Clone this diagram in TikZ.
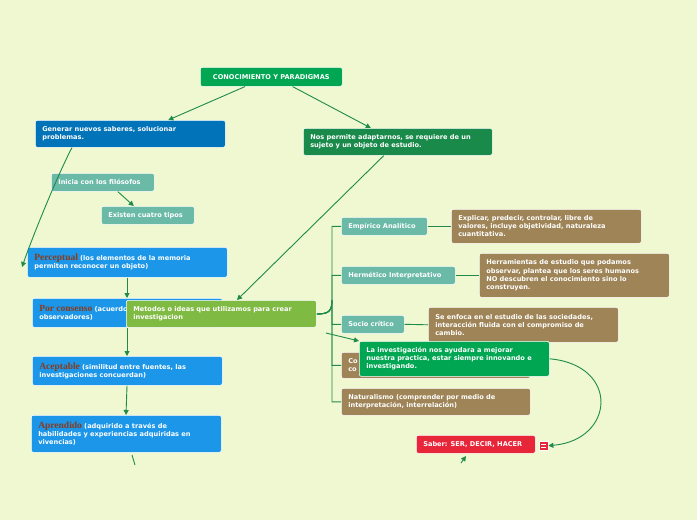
\documentclass[tikz,border=0pt]{standalone}
\usepackage{fontspec}
\setmainfont{DejaVu Sans}
\newfontfamily\serifx{Liberation Serif}
\usetikzlibrary{arrows.meta}
\definecolor{bg}{RGB}{239,248,209}
\definecolor{lnk}{RGB}{31,138,74}
\definecolor{gtitle}{RGB}{0,166,81}
\definecolor{dblue}{RGB}{0,115,185}
\definecolor{lblue}{RGB}{27,150,232}
\definecolor{teal}{RGB}{107,186,168}
\definecolor{dgreen}{RGB}{26,138,74}
\definecolor{lgreen}{RGB}{127,186,66}
\definecolor{brownx}{RGB}{158,132,86}
\definecolor{redx}{RGB}{232,38,58}
\definecolor{kw}{RGB}{140,58,26}
\tikzset{
 bx/.style={draw=white,line width=0.6pt,rounded corners=2pt,text=white,font=\fontsize{6.6}{8.2}\selectfont\bfseries,align=left,inner sep=0pt,anchor=north west},
 ar/.style={draw=lnk,line width=0.9pt,-{Triangle[length=5pt,width=5pt]}},
 ln/.style={draw=lnk,line width=0.9pt}
}
\newcommand{\kwx}[1]{{\serifx\fontsize{9.5}{9}\selectfont\color{kw}#1}}
\newcommand{\bxn}[7]{%
 \pgfmathsetmacro{\bw}{#4-#2}\pgfmathsetmacro{\bh}{#5-#3}\pgfmathsetmacro{\tw}{#4-#2-14}%
 \node[bx,fill=#6,minimum width=\bw pt,minimum height=\bh pt] (#1) at (#2,#3) {\parbox{\tw pt}{\raggedright #7}};}
\begin{document}
\begin{tikzpicture}[x=1pt,y=-1pt]
\fill[bg] (0,0) rectangle (697,520);
\useasboundingbox (0,0) rectangle (697,520);
\bxn{tit}{200}{67}{342}{86}{gtitle}{\centering CONOCIMIENTO Y PARADIGMAS}
\bxn{gen}{35}{120}{225}{147}{dblue}{Generar nuevos saberes, solucionar\\problemas.}
\bxn{ini}{51}{173}{154}{191}{teal}{Inicia con los filósofos}
\bxn{exi}{101}{206}{194}{224}{teal}{Existen cuatro tipos}
\bxn{nos}{303}{128}{492}{155}{dgreen}{Nos permite adaptarnos, se requiere de un\\sujeto y un objeto de estudio.}
\bxn{per}{27}{247}{227}{277}{lblue}{\kwx{Perceptual} (los elementos de la memoria\\permiten reconocer un objeto)}
\bxn{con}{32}{298}{222}{327}{lblue}{\kwx{Por consenso} (acuerdo entre\\observadores)}
\bxn{ace}{32}{356}{222}{385}{lblue}{\kwx{Aceptable} (similitud entre fuentes, las\\investigaciones concuerdan)}
\bxn{apr}{31}{415}{221}{452}{lblue}{\kwx{Aprendido} (adquirido a través de\\habilidades y experiencias adquiridas en\\vivencias)}
\bxn{emp}{341}{217}{427}{235}{teal}{Empírico Analítico}
\bxn{exp}{451}{209}{641}{243}{brownx}{Explicar, predecir, controlar, libre de\\valores, incluye objetividad, naturaleza\\cuantitativa.}
\bxn{her}{341}{266}{455}{284}{teal}{Hermético Interpretativo}
\bxn{hrr}{479}{253}{669}{297}{brownx}{Herramientas de estudio que podamos\\observar, plantea que los seres humanos\\NO descubren el conocimiento sino lo\\construyen.}
\bxn{soc}{341}{315}{404}{333}{teal}{Socio crítico}
\bxn{sen}{428}{307}{618}{342}{brownx}{Se enfoca en el estudio de las sociedades,\\interacción fluida con el compromiso de\\cambio.}
\bxn{cox}{341}{352}{530}{378}{brownx}{Co\\co}
\bxn{nat}{341}{388}{530}{415}{brownx}{Naturalismo (comprender por medio de\\interpretación, interrelación)}
\bxn{sab}{416}{435}{535}{453}{redx}{Saber: SER, DECIR, HACER}
\node[fill=redx,draw=white,line width=0.4pt,minimum width=9pt,minimum height=9pt,inner sep=0pt,anchor=north west] (ico) at (539,441) {};
\draw[white,line width=0.6pt] (541,444.5)--(546,444.5) (541,447.5)--(546,447.5);
\coordinate (lft) at (22,267);
\coordinate (aprd) at (135,465);
\coordinate (aprs) at (132,455);
\coordinate (saberb) at (466,456);
\coordinate (sbfrom) at (461,463);
\coordinate (metin) at (237,300);
\coordinate (metout) at (326,333);
% connectors
\draw[ar] ([xshift=45pt]tit.south west) -- ([xshift=38pt]gen.north);
\draw[ar] ([xshift=-50pt]tit.south east) -- ([xshift=-27pt]nos.north);
\draw[ar] ([xshift=37pt]gen.south west) .. controls (60,170) and (35,230) .. (lft);
\draw[ar] ([xshift=15pt]ini.south) -- ([xshift=-14pt]exi.north);
\draw[ar] ([xshift=-14pt]nos.south) -- (metin);
\draw[ar] ([xshift=100pt]per.south west) -- ([xshift=95pt]con.north west);
\draw[ar] ([xshift=95pt]con.south west) -- ([xshift=95pt]ace.north west);
\draw[ar] ([xshift=95pt]ace.south west) -- ([xshift=95pt]apr.north west);
\draw[ln] (aprs) -- (aprd);
\draw[ar] (sbfrom) -- (saberb);
\draw[ar] (metout) -- (359,341);
\foreach \t in {emp,her,soc,cox,nat}{
 \draw[ln] (316,314) .. controls (328,314) and (332,312) .. (332,300) |- (\t.west);
}
\draw[ln] (emp.east) -- (exp.west);
\draw[ln] (her.east) -- (hrr.west);
\draw[ln] (soc.east) -- (sen.west);
\bxn{met}{126}{300}{316}{327}{lgreen}{Metodos o ideas que utilizamos para crear\\investigacion}
\bxn{lai}{359}{341}{549}{376}{gtitle}{La investigación nos ayudara a mejorar\\nuestra practica, estar siempre innovando e\\investigando.}
\draw[ar] (lai.east) .. controls (620,365) and (615,440) .. (ico.east);
\end{tikzpicture}
\end{document}
